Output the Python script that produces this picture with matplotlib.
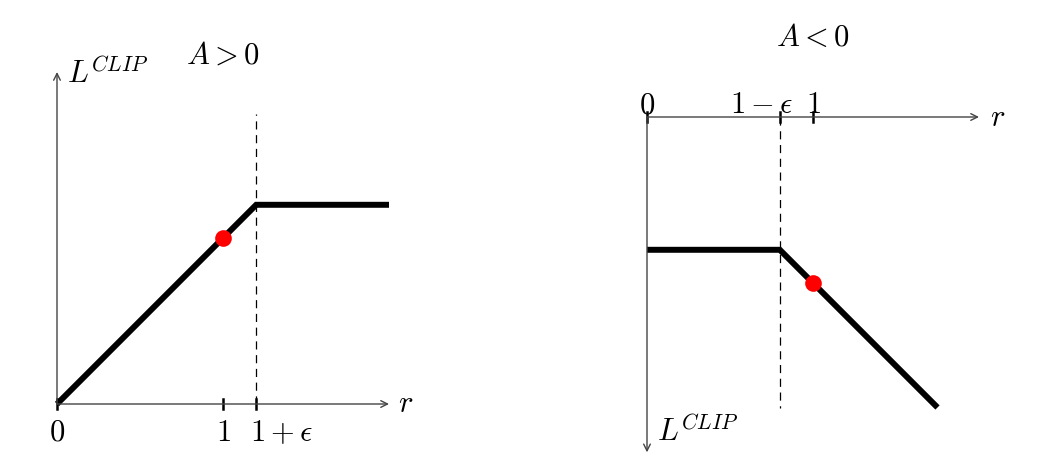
import matplotlib
matplotlib.use("Agg")
import matplotlib.pyplot as plt

plt.rcParams['mathtext.fontset'] = 'cm'
plt.rcParams['font.family'] = ['DejaVu Serif']

# ---- datos ----
eps = 0.2
axis_len = 2.0

# A > 0
pos_x = [0, 1 + eps, 2.0]
pos_y = [0, 1 + eps, 1 + eps]
pos_dot = (1, 1)
pos_ticks = [0, 1, 1 + eps]
pos_ticklabels = [r'$0$', r'$1$', r'$1+\epsilon$']
pos_dash_top = 1.75

# A < 0
neg_x = [0, 1 - eps, 1.75]
neg_y = [-(1 - eps), -(1 - eps), -1.75]
neg_dot = (1, -1)
neg_ticks = [0, 1 - eps, 1]
neg_ticklabels = [r'$0$', r'$1-\epsilon$', r'$1$']
neg_dash_bottom = -1.75

W, H = 1040, 470
PX = 166  # pixeles por unidad
FS = 22


def make_ax(fig, origin, xlim, ylim):
    ox, oy = origin  # pixel desde arriba
    left = ox + xlim[0] * PX
    width = (xlim[1] - xlim[0]) * PX
    top = oy - ylim[1] * PX
    height = (ylim[1] - ylim[0]) * PX
    ax = fig.add_axes([left / W, (H - top - height) / H, width / W, height / H])
    ax.set_xlim(*xlim)
    ax.set_ylim(*ylim)
    ax.set_axis_off()
    return ax


def arrow(ax, x0, y0, x1, y1):
    ax.annotate('', xy=(x1, y1), xytext=(x0, y0),
                arrowprops=dict(arrowstyle='->', color='#444444', lw=1.0,
                                shrinkA=0, shrinkB=0, mutation_scale=12),
                annotation_clip=False)


fig = plt.figure(figsize=(W / 100, H / 100), dpi=100)

# ---- panel izquierdo ----
ax1 = make_ax(fig, (57, 404), (-0.3, 2.4), (-0.38, 2.4))
arrow(ax1, 0, 0, axis_len, 0)
arrow(ax1, 0, 0, 0, axis_len)
ax1.plot([1 + eps, 1 + eps], [0, pos_dash_top], color='black', lw=0.9,
         dashes=(6.5, 4.5), clip_on=False)
ax1.plot(pos_x, pos_y, color='black', lw=4.3, solid_capstyle='butt',
         solid_joinstyle='miter', clip_on=False)
ax1.plot(*pos_dot, 'o', color='red', ms=12, mew=0, clip_on=False, zorder=5)
for t in pos_ticks:
    ax1.plot([t, t], [-0.033, 0.033], color='black', lw=1.8, clip_on=False)
ax1.text(0, -0.17, pos_ticklabels[0], ha='center', va='center', fontsize=FS)
ax1.text(1, -0.17, pos_ticklabels[1], ha='center', va='center', fontsize=FS)
ax1.text(1.355, -0.17, pos_ticklabels[2], ha='center', va='center', fontsize=FS)
ax1.text(2.1, 0, r'$r$', ha='center', va='center', fontsize=FS)
ax1.text(0.06, 1.99, r'$L^{CLIP}$', ha='left', va='center', fontsize=FS)
ax1.text(1.0, 2.1, r'$A>0$', ha='center', va='center', fontsize=FS)

# ---- panel derecho ----
ax2 = make_ax(fig, (647, 117), (-0.3, 2.4), (-2.1, 0.7))
arrow(ax2, 0, 0, axis_len, 0)
arrow(ax2, 0, 0, 0, -2.02)
ax2.plot([1 - eps, 1 - eps], [0, neg_dash_bottom], color='black', lw=0.9,
         dashes=(6.5, 4.5), clip_on=False)
ax2.plot(neg_x, neg_y, color='black', lw=4.3, solid_capstyle='butt',
         solid_joinstyle='miter', clip_on=False)
ax2.plot(*neg_dot, 'o', color='red', ms=12, mew=0, clip_on=False, zorder=5)
for t in neg_ticks:
    ax2.plot([t, t], [-0.033, 0.033], color='black', lw=1.8, clip_on=False)
ax2.text(0, 0.075, neg_ticklabels[0], ha='center', va='center', fontsize=FS)
ax2.text(0.88, 0.075, neg_ticklabels[1], ha='right', va='center', fontsize=FS)
ax2.text(1, 0.075, neg_ticklabels[2], ha='center', va='center', fontsize=FS)
ax2.text(2.11, 0, r'$r$', ha='center', va='center', fontsize=FS)
ax2.text(0.06, -1.9, r'$L^{CLIP}$', ha='left', va='center', fontsize=FS)
ax2.text(1.0, 0.48, r'$A<0$', ha='center', va='center', fontsize=FS)

fig.savefig('out.png', dpi=100)
